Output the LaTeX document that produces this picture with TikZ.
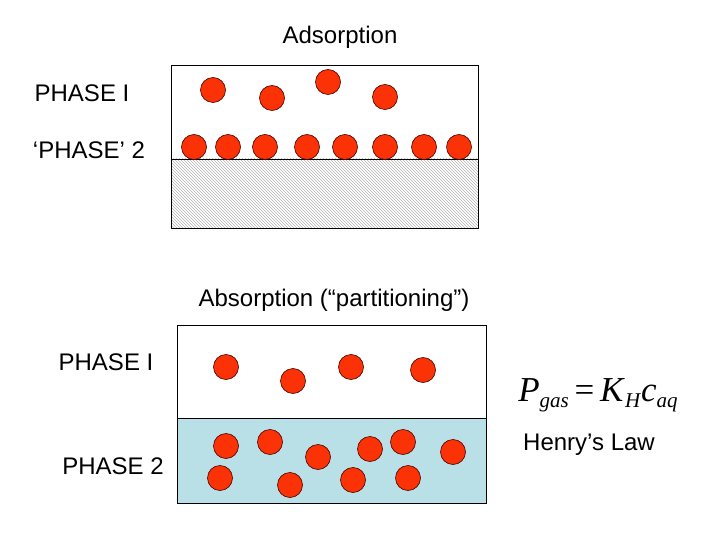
\documentclass[tikz,border=0pt]{standalone}
\usepackage{fontspec}
\setmainfont{Liberation Sans}
\newfontfamily\tms{Liberation Serif}
\usetikzlibrary{patterns}
\definecolor{mol}{RGB}{250,50,5}
\definecolor{aq}{RGB}{185,224,230}
\begin{document}
\begin{tikzpicture}[x=1pt,y=-1pt,
  m/.style={circle,draw=black!70!red,line width=0.6pt,fill=mol,minimum size=25pt,inner sep=0pt},
  lab/.style={font=\fontsize{24}{28}\selectfont}]
\useasboundingbox (0,0) rectangle (720,540);
\node[draw,line width=0.8pt,minimum width=307pt,minimum height=94pt,inner sep=0pt] (top) at (324.5,112) {};
\fill[pattern=north west lines,pattern color=black!30] (171,159) rectangle (478,228);
\node[draw,line width=0.8pt,minimum width=307pt,minimum height=69pt,inner sep=0pt] (surf) at (324.5,193.5) {};
\fill[aq] (177,418) rectangle (486,503);
\node[draw,line width=0.8pt,minimum width=309pt,minimum height=178pt,inner sep=0pt] (bot) at (331.5,414) {};
\draw[line width=0.8pt] (177,418) -- (486,418);
\foreach \x/\y [count=\i] in {213/90,272/98,328/82,385/97,194/147,228/147,265/147,307/147,345/147,385/147,424/147,459/147,
226/367,293/381,351/367,423/370,226/446,270/442,318/457,370/449,403/442,453/452,220/478,290/485,353/480,408/478}
  \node[m] (c\i) at (\x,\y) {};
\node[lab] (t1) at (340,37) {Adsorption};
\node[lab] (t2) at (82,93) {PHASE I};
\node[lab] (t3) at (89,150) {‘PHASE’ 2};
\node[lab] (t4) at (334,300) {Absorption (“partitioning”)};
\node[lab] (t5) at (106,362) {PHASE I};
\node[lab] (t6) at (113,466) {PHASE 2};
\node[lab] (t7) at (589,445) {Henry’s Law};
\node[font=\tms\fontsize{35}{38}\selectfont] (f) at (598,395) {\textit{P}\raisebox{-0.35ex}{\fontsize{21}{22}\selectfont\textit{gas}}\,=\,\textit{K}\raisebox{-0.35ex}{\fontsize{21}{22}\selectfont\textit{H}}\textit{c}\raisebox{-0.35ex}{\fontsize{21}{22}\selectfont\textit{aq}}};
\end{tikzpicture}
\end{document}
